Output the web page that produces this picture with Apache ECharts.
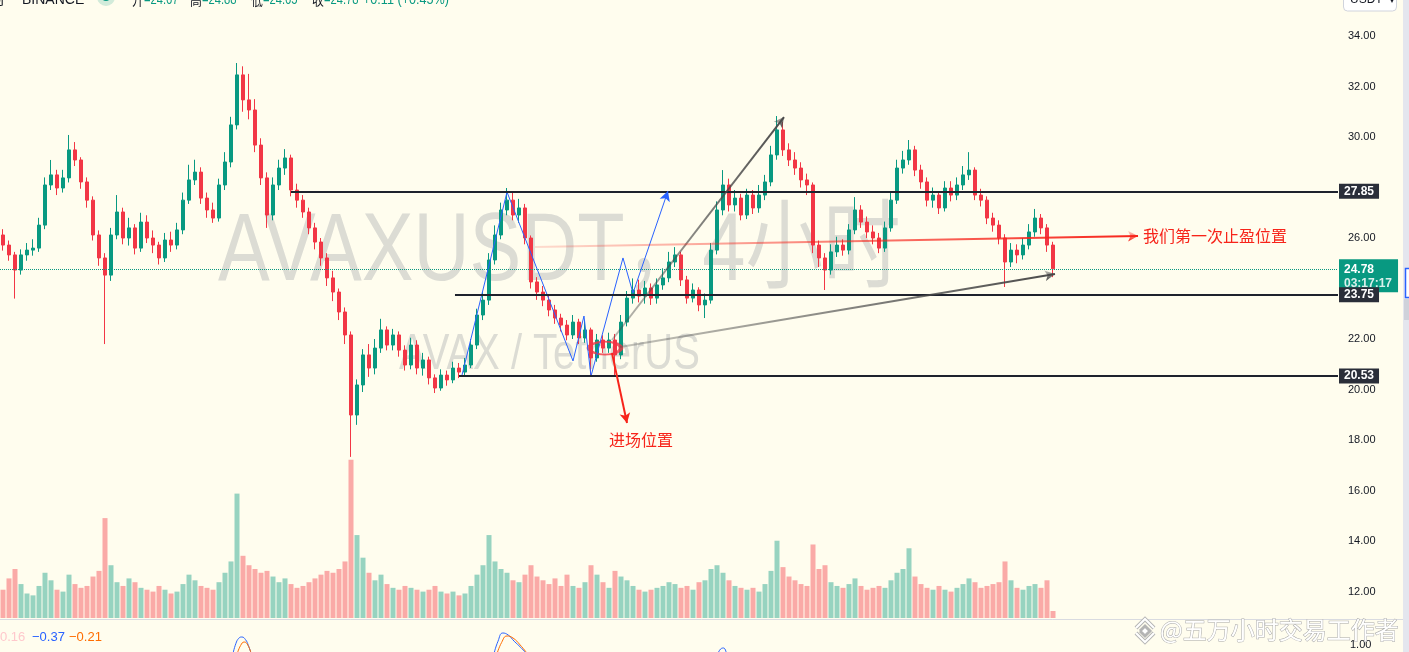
<!DOCTYPE html>
<html>
<head>
<meta charset="utf-8">
<title>AVAXUSDT 4小时</title>
<script src="https://cdn.jsdelivr.net/npm/echarts@6/dist/echarts.min.js"></script>
<style>
  html, body { margin: 0; padding: 0; background: #fffdee; }
  #chart { width: 1409px; height: 652px; }
</style>
</head>
<body>
<div id="chart"></div>
<script>
// 4小时K线（读图估算，每根约代表原图3根）
const firstOpen = 26.12;
const closes = [
  25.72, 25.33, 24.73, 25.33, 25.52, 25.60, 26.51, 28.10, 28.50, 27.98,
  28.38, 29.49, 29.09, 28.22, 27.50, 26.12, 25.21, 24.53, 26.12, 27.03,
  26.00, 26.40, 25.60, 26.63, 26.00, 25.72, 25.21, 25.92, 25.72, 26.32,
  27.50, 28.30, 28.61, 27.58, 27.11, 26.79, 28.10, 29.01, 30.48, 32.46,
  31.47, 31.07, 29.68, 28.38, 26.91, 28.10, 28.77, 29.17, 27.90, 27.50,
  27.03, 26.40, 25.84, 25.21, 24.42, 23.86, 23.07, 22.16, 18.99, 20.18,
  21.37, 20.85, 21.64, 22.36, 21.76, 22.16, 21.56, 20.97, 21.76, 20.85,
  21.17, 20.46, 20.06, 20.57, 20.38, 20.85, 20.69, 20.97, 21.76, 22.95,
  23.54, 25.13, 26.12, 27.11, 27.50, 26.91, 27.19, 26.00, 24.26, 23.86,
  23.54, 23.15, 22.83, 22.55, 22.16, 22.67, 22.04, 22.36, 21.25, 21.96,
  21.64, 21.96, 21.37, 22.67, 23.62, 23.94, 23.70, 24.02, 23.62, 24.14,
  24.42, 25.05, 25.33, 24.34, 23.62, 23.94, 23.35, 23.54, 25.52, 27.11,
  28.10, 27.31, 27.58, 26.91, 27.70, 27.19, 27.70, 28.22, 29.29, 30.28,
  29.49, 29.09, 28.77, 28.30, 28.10, 25.72, 25.21, 24.73, 25.45, 25.72,
  25.52, 26.32, 27.11, 26.63, 26.24, 26.00, 25.60, 26.40, 27.50, 28.77,
  29.09, 29.49, 28.69, 28.22, 27.50, 27.70, 27.19, 27.98, 27.70, 28.10,
  28.50, 28.69, 27.70, 27.50, 26.79, 26.51, 26.00, 25.05, 25.52, 25.33,
  25.72, 26.24, 26.79, 26.40, 25.72, 24.78
];
const highs = [
  26.35, 25.90, 25.45, 25.55, 25.80, 25.95, 26.80, 28.40, 29.09, 28.70,
  28.70, 30.08, 29.80, 29.20, 28.40, 27.65, 26.30, 25.40, 26.40, 27.70,
  27.20, 26.80, 26.55, 27.00, 26.90, 26.30, 25.85, 26.20, 26.25, 26.60,
  27.80, 28.90, 29.10, 28.80, 27.80, 27.40, 28.35, 29.40, 30.80, 32.93,
  32.80, 32.50, 31.50, 29.95, 28.60, 28.40, 29.10, 29.52, 29.30, 28.15,
  27.70, 27.20, 26.60, 26.00, 25.40, 24.70, 24.00, 23.25, 22.30, 20.40,
  21.60, 21.80, 22.00, 22.80, 22.50, 22.40, 22.30, 21.75, 22.05, 21.95,
  21.45, 21.30, 20.60, 20.80, 20.75, 21.10, 21.05, 21.25, 22.00, 23.20,
  23.85, 25.40, 26.50, 27.40, 27.98, 27.80, 27.55, 27.35, 26.10, 24.45,
  24.10, 23.75, 23.35, 23.00, 22.75, 22.95, 22.80, 22.75, 22.45, 22.20,
  22.15, 22.25, 22.20, 22.95, 23.90, 24.40, 24.35, 24.30, 24.20, 24.40,
  24.80, 25.45, 25.64, 25.45, 24.50, 24.20, 24.05, 23.80, 25.80, 27.45,
  28.69, 28.35, 27.90, 27.75, 27.95, 27.90, 28.10, 28.50, 29.65, 30.83,
  30.60, 29.75, 29.40, 29.00, 28.55, 28.20, 25.90, 25.40, 25.75, 26.05,
  25.95, 26.55, 27.62, 27.30, 26.85, 26.50, 26.20, 26.65, 27.80, 29.10,
  29.45, 29.88, 29.65, 28.90, 28.40, 28.00, 27.85, 28.25, 28.25, 28.40,
  28.85, 29.40, 28.80, 27.95, 27.65, 27.00, 26.70, 26.15, 25.80, 25.75,
  26.00, 26.55, 27.15, 26.95, 26.55, 25.85
];
const lows = [
  25.50, 25.10, 23.60, 24.55, 25.10, 25.30, 25.45, 26.35, 27.90, 27.70,
  27.80, 28.20, 28.85, 27.95, 27.20, 25.90, 24.90, 21.80, 24.30, 25.95,
  25.75, 25.70, 25.35, 25.45, 25.80, 25.40, 24.95, 25.05, 25.45, 25.55,
  26.15, 27.35, 28.10, 27.35, 26.80, 26.60, 26.65, 27.90, 28.80, 30.30,
  31.00, 30.70, 29.40, 28.10, 26.40, 26.70, 27.90, 28.50, 27.65, 27.20,
  26.80, 26.15, 25.55, 24.90, 24.10, 23.50, 22.75, 21.80, 17.33, 18.60,
  19.90, 20.50, 20.60, 21.45, 21.55, 21.55, 21.30, 20.75, 20.80, 20.60,
  20.55, 20.20, 19.86, 19.95, 20.15, 20.25, 20.45, 20.55, 20.85, 21.60,
  22.75, 23.35, 24.95, 25.95, 26.90, 26.70, 26.60, 25.75, 24.00, 23.55,
  23.30, 22.90, 22.60, 22.30, 21.95, 22.00, 21.80, 21.85, 20.57, 21.10,
  21.45, 21.45, 20.53, 21.20, 22.50, 23.40, 23.45, 23.40, 23.35, 23.40,
  23.95, 24.25, 24.85, 24.10, 23.40, 23.45, 23.10, 22.83, 23.40, 25.35,
  26.90, 27.05, 27.05, 26.70, 26.75, 26.95, 27.00, 27.50, 28.05, 29.10,
  29.25, 28.85, 28.50, 28.00, 27.70, 25.40, 24.85, 23.94, 24.55, 25.25,
  25.30, 25.35, 26.15, 26.40, 26.00, 25.75, 25.40, 25.45, 26.25, 27.35,
  28.55, 28.90, 28.45, 27.95, 27.25, 27.20, 26.95, 27.05, 27.45, 27.50,
  27.90, 28.30, 27.50, 27.25, 26.55, 26.25, 25.75, 24.06, 24.85, 25.00,
  25.15, 25.55, 26.05, 26.15, 25.45, 24.45
];
// 成交量（K）
const volumes = [
  150, 210, 260, 180, 130, 120, 170, 240, 200, 150,
  140, 230, 180, 160, 170, 220, 250, 530, 280, 190,
  170, 210, 190, 160, 150, 140, 170, 150, 130, 140,
  180, 230, 200, 170, 160, 150, 190, 240, 300, 660,
  330, 280, 260, 240, 250, 220, 190, 210, 180, 160,
  170, 190, 210, 230, 250, 240, 260, 300, 840, 440,
  320, 240, 200, 230, 180, 160, 150, 170, 160, 150,
  140, 150, 170, 140, 130, 140, 120, 130, 170, 230,
  280, 440, 300, 260, 240, 200, 190, 230, 280, 220,
  200, 180, 210, 170, 230, 170, 160, 190, 280, 230,
  190, 160, 250, 220, 200, 170, 150, 140, 150, 160,
  170, 190, 180, 160, 170, 150, 190, 200, 260, 280,
  240, 200, 170, 160, 150, 160, 140, 180, 250, 410,
  270, 220, 200, 180, 170, 390, 260, 280, 190, 170,
  160, 180, 210, 170, 150, 160, 170, 160, 200, 240,
  260, 370, 220, 180, 160, 150, 170, 150, 140, 160,
  180, 210, 190, 160, 170, 180, 190, 300, 200, 160,
  150, 170, 180, 160, 200, 37.166
];
const emptySlots = 47; // 右侧留白
const priceLabels = ['12.00', '14.00', '16.00', '18.00', '20.00', '22.00', '26.00', '30.00', '32.00', '34.00'];
const lastPrice = 24.78;
const lastVolume = 37.166;

// 画线（x为K线序号，y为价格）
const levels = [27.85, 23.75, 20.53];
const levelStart = [48, 75.33, 76];
const blueWave = [[76.5, 20.57], [84, 27.82], [95, 21.13], [96.83, 22.91], [98, 20.53], [103.33, 25.21], [105, 23.82]];
const blueArrow = [[105, 23.82], [110.83, 27.86]];
const upArrow = [[101.5, 21.96], [130.17, 30.79]];
const trendArrow = [[102.83, 21.68], [175.33, 24.57]];
const takeProfitArrow = [[88.67, 25.64], [189.17, 26.08]];
const entryArrow = [[101.5, 21.44], [104, 18.67]];
const entryMark = [100.33, 21.64];

// MACD 露出的小段
const macdBlue = [
  [[38.3, 0.62], [38.8, 1.05], [39.3, 1.27], [39.8, 1.32], [40.4, 1.22], [40.9, 0.98], [41.4, 0.62]],
  [[81.8, 0.62], [82.5, 1.15], [83.3, 1.48], [84.2, 1.40], [85.2, 1.15], [86.3, 0.90], [87.4, 0.62]],
  [[119.1, 0.62], [119.6, 0.84], [120.1, 0.88], [120.6, 0.62]]
];
const macdOrange = [
  [[39.0, 0.62], [39.6, 0.98], [40.2, 1.12], [40.8, 1.00], [41.4, 0.62]],
  [[82.3, 0.62], [83.1, 1.10], [84.0, 1.36], [85.0, 1.28], [86.2, 1.00], [87.5, 0.62]]
];

const UP = '#089981';
const DOWN = '#f23645';
const RED = '#f7241a';
const FONT = '"Liberation Sans", "Noto Sans CJK SC", sans-serif';

const total = closes.length + emptySlots;
const cats = [];
for (let i = 0; i < total; i++) cats.push(i < closes.length ? String(i) : '');
const opens = closes.map((c, i) => (i === 0 ? firstOpen : closes[i - 1]));
const candles = closes.map((c, i) => [opens[i], c, lows[i], highs[i]]);
const volData = volumes.map((v, i) => ({
  value: v,
  itemStyle: { color: closes[i] >= opens[i] ? 'rgba(8,153,129,0.42)' : 'rgba(242,54,69,0.42)' }
}));

const grad = (from, to) => new echarts.graphic.LinearGradient(0, 0, 1, 0, [
  { offset: 0, color: from },
  { offset: 1, color: to }
]);
const seg = (pts, style, label) => {
  const a = { coord: pts[0], lineStyle: style };
  if (label) a.label = label;
  return [a, { coord: pts[1] }];
};

const chart = echarts.init(document.getElementById('chart'));

const option = {
  animation: false,
  backgroundColor: '#fffdee',
  grid: [
    { left: 0, right: 71, top: -14.5, height: 656.5, outerBoundsMode: 'none', containLabel: false },
    { left: 0, right: 71, top: 438, height: 180, outerBoundsMode: 'none', containLabel: false },
    { left: 0, right: 71, top: 620, height: 50, outerBoundsMode: 'none', containLabel: false }
  ],
  xAxis: [
    { type: 'category', gridIndex: 0, data: cats, show: false },
    { type: 'value', gridIndex: 0, min: -0.5, max: total - 0.5, show: false },
    { type: 'category', gridIndex: 1, data: cats, show: false },
    { type: 'value', gridIndex: 2, min: -0.5, max: total - 0.5, show: false }
  ],
  yAxis: [
    {
      gridIndex: 0, position: 'right', min: 10, max: 36, interval: 2,
      splitLine: { show: false }, axisLine: { show: false }, axisTick: { show: false },
      axisLabel: {
        color: '#131722', fontSize: 11, margin: 10, fontFamily: FONT,
        formatter: v => (priceLabels.includes(v.toFixed(2)) ? v.toFixed(2) : '')
      }
    },
    { gridIndex: 1, min: 0, max: 955, show: false },
    {
      gridIndex: 2, position: 'right', min: 0, max: 2, interval: 1,
      splitLine: { show: false }, axisLine: { show: false }, axisTick: { show: false },
      axisLabel: { color: '#131722', fontSize: 11, margin: 12, fontFamily: FONT, formatter: v => (v === 1 ? '1.00' : '') }
    }
  ],
  series: [
    {
      name: 'volume', type: 'bar', xAxisIndex: 2, yAxisIndex: 1,
      data: volData, barWidth: 5,
      markLine: {
        silent: true, symbol: 'none',
        lineStyle: { opacity: 0 },
        label: {
          position: 'end', distance: 1, formatter: '37.166 K',
          backgroundColor: '#22ab94', color: '#fff', fontSize: 11, fontWeight: 'bold',
          padding: [2, 4, 1, 5], fontFamily: FONT
        },
        data: [{ yAxis: lastVolume }]
      }
    },
    {
      name: 'AVAXUSDT', type: 'candlestick', xAxisIndex: 0, yAxisIndex: 0,
      data: candles, barWidth: 3,
      itemStyle: { color: UP, color0: DOWN, borderColor: UP, borderColor0: DOWN, borderWidth: 1 },
      markLine: {
        silent: true, symbol: 'none',
        lineStyle: { type: 'dotted', color: UP, width: 1 },
        label: {
          position: 'end', distance: 1, offset: [0, 7],
          formatter: '{a|24.78}\n{b|03:17:17}',
          backgroundColor: UP, padding: [3, 6, 2, 5],
          rich: {
            a: { color: '#fff', fontSize: 12, fontWeight: 'bold', lineHeight: 14, fontFamily: FONT },
            b: { color: 'rgba(255,255,255,0.85)', fontSize: 12, fontWeight: 'bold', lineHeight: 14, fontFamily: FONT }
          }
        },
        data: [{ yAxis: lastPrice }]
      }
    },
    {
      name: 'levels', type: 'scatter', xAxisIndex: 1, yAxisIndex: 0,
      data: [entryMark],
      symbol: 'circle', symbolSize: [32, 13],
      itemStyle: { color: 'rgba(0,0,0,0)', borderColor: DOWN, borderWidth: 3 },
      markLine: {
        silent: true, symbol: 'none',
        lineStyle: { color: '#1e222d', width: 2, type: 'solid' },
        label: {
          show: true, position: 'end', distance: 1,
          backgroundColor: '#2a2e39', color: '#fff', fontSize: 12, fontWeight: 'bold',
          padding: [2, 5, 1, 5], fontFamily: FONT
        },
        data: levels.map((v, k) => [
          { coord: [levelStart[k], v], label: { formatter: v.toFixed(2) } },
          { coord: [total - 0.5, v] }
        ])
      }
    },
    {
      name: 'drawings', type: 'line', xAxisIndex: 1, yAxisIndex: 0,
      data: blueWave, symbol: 'none',
      lineStyle: { color: '#2962ff', width: 1 },
      markLine: {
        silent: true, symbol: ['none', 'arrow'], symbolSize: [8, 10],
        label: { show: false },
        data: [
          seg(blueArrow, { color: '#2962ff', width: 1, type: 'solid' }),
          seg(upArrow, { color: grad('rgba(70,70,70,0.35)', '#4a4a4a'), width: 2, type: 'solid' }),
          seg(trendArrow, { color: grad('rgba(70,70,70,0.3)', '#4a4a4a'), width: 2, type: 'solid' }),
          seg(takeProfitArrow, { color: grad('rgba(247,36,26,0.15)', RED), width: 2, type: 'solid' }, {
            show: true, position: 'end', distance: 5, formatter: '我们第一次止盈位置',
            color: RED, fontSize: 16, fontFamily: '"Noto Sans CJK SC", sans-serif'
          }),
          seg(entryArrow, { color: RED, width: 2, type: 'solid' })
        ]
      }
    },
    ...macdBlue.map(d => ({
      type: 'line', xAxisIndex: 3, yAxisIndex: 2, data: d, symbol: 'none', smooth: true,
      lineStyle: { color: '#2962ff', width: 1 }
    })),
    ...macdOrange.map(d => ({
      type: 'line', xAxisIndex: 3, yAxisIndex: 2, data: d, symbol: 'none', smooth: true,
      lineStyle: { color: '#ff6d00', width: 1 }
    }))
  ],
  graphic: [
    // 水印
    {
      type: 'text', x: 218, y: 253, scaleX: 0.8, z: 0, silent: true,
      style: { text: 'AVAXUSDT，4小时', font: '97px ' + FONT, fill: '#dcdcd4', verticalAlign: 'middle' }
    },
    {
      type: 'text', x: 399, y: 355, scaleX: 0.8, z: 0, silent: true,
      style: { text: 'AVAX / TetherUS', font: '50px ' + FONT, fill: '#dcdcd4', verticalAlign: 'middle' }
    },
    // 顶部信息栏
    { type: 'text', x: -9, y: 0, z: 100, style: { text: '时', font: '14px ' + FONT, fill: '#131722', verticalAlign: 'middle' } },
    { type: 'text', x: 22, y: 0, z: 100, style: { text: 'BINANCE', font: '14px ' + FONT, fill: '#131722', verticalAlign: 'middle' } },
    { type: 'circle', z: 100, shape: { cx: 106, cy: -3, r: 9 }, style: { fill: 'rgba(8,153,129,0.18)' } },
    { type: 'circle', z: 100, shape: { cx: 106, cy: -3, r: 4 }, style: { fill: UP } },
    ...[['开', '=24.67', 132], ['高', '=24.88', 190], ['低', '=24.65', 251], ['收', '=24.78', 312]].flatMap(t => [
      { type: 'text', x: t[2], y: 0, z: 100, scaleX: 0.85, style: { text: t[0], font: '14px "Noto Sans CJK SC", sans-serif', fill: '#131722', verticalAlign: 'middle' } },
      { type: 'text', x: t[2] + 12, y: 0, z: 100, scaleX: 0.8, style: { text: t[1], font: '14px ' + FONT, fill: UP, verticalAlign: 'middle' } }
    ]),
    { type: 'text', x: 363, y: 0, z: 100, scaleX: 0.9, style: { text: '+0.11 (+0.45%)', font: '14px ' + FONT, fill: UP, verticalAlign: 'middle' } },
    // 右上角 USDT
    { type: 'rect', z: 100, shape: { x: 1343.5, y: -8, width: 53, height: 19, r: 4 }, style: { fill: '#ffffff', stroke: '#d1d4dc', lineWidth: 1 } },
    { type: 'text', x: 1350, y: 0, z: 101, style: { text: 'USDT  ▾', font: '12px ' + FONT, fill: '#131722', verticalAlign: 'middle' } },
    // 右侧边栏
    { type: 'rect', z: 100, shape: { x: 1403, y: 0, width: 6, height: 652 }, style: { fill: '#e4e6ee' } },
    { type: 'rect', z: 101, shape: { x: 1405.5, y: 268.5, width: 10, height: 29 }, style: { fill: '#ffffff', stroke: '#2962ff', lineWidth: 1.5 } },
    { type: 'rect', z: 101, shape: { x: 1404, y: 299, width: 5, height: 21 }, style: { fill: '#cfd2da' } },
    // 副图分隔线与数值
    { type: 'line', z: 50, shape: { x1: 0, y1: 619.5, x2: 1403, y2: 619.5 }, style: { stroke: '#d9dbe0', lineWidth: 1 } },
    { type: 'text', x: 0, y: 637, z: 100, style: { text: '0.16', font: '13px ' + FONT, fill: '#ffc8cc', verticalAlign: 'middle' } },
    { type: 'text', x: 32, y: 637, z: 100, style: { text: '−0.37', font: '13px ' + FONT, fill: '#2962ff', verticalAlign: 'middle' } },
    { type: 'text', x: 69, y: 637, z: 100, style: { text: '−0.21', font: '13px ' + FONT, fill: '#ff6d00', verticalAlign: 'middle' } },
    // 标注文字
    {
      type: 'text', x: 641, y: 440, z: 100,
      style: { text: '进场位置', font: '16px "Noto Sans CJK SC", sans-serif', fill: RED, align: 'center', verticalAlign: 'middle' }
    },
    // 右下角水印
    { type: 'polyline', z: 100, shape: { points: [[1136, 628], [1145, 619], [1154, 628]] }, style: { stroke: '#b4b4b4', lineWidth: 4, fill: 'none' } },
    { type: 'polyline', z: 101, shape: { points: [[1136, 628], [1145, 619], [1154, 628]] }, style: { stroke: '#ffffff', lineWidth: 2, fill: 'none' } },
    { type: 'polyline', z: 100, shape: { points: [[1136, 633], [1145, 642], [1154, 633]] }, style: { stroke: '#b4b4b4', lineWidth: 4, fill: 'none' } },
    { type: 'polyline', z: 101, shape: { points: [[1136, 633], [1145, 642], [1154, 633]] }, style: { stroke: '#ffffff', lineWidth: 2, fill: 'none' } },
    { type: 'polyline', z: 100, shape: { points: [[1140, 631], [1145, 626], [1150, 631], [1145, 636], [1140, 631]] }, style: { stroke: '#b4b4b4', lineWidth: 3, fill: '#ffffff' } },
    {
      type: 'text', x: 1160, y: 630, z: 100,
      style: {
        text: '@五万小时交易工作者', font: '24px "Noto Sans CJK SC", sans-serif',
        fill: '#ffffff', stroke: '#a9a9a9', lineWidth: 1, verticalAlign: 'middle'
      }
    }
  ]
};

chart.setOption(option);
window.addEventListener('resize', () => chart.resize());
</script>
</body>
</html>
